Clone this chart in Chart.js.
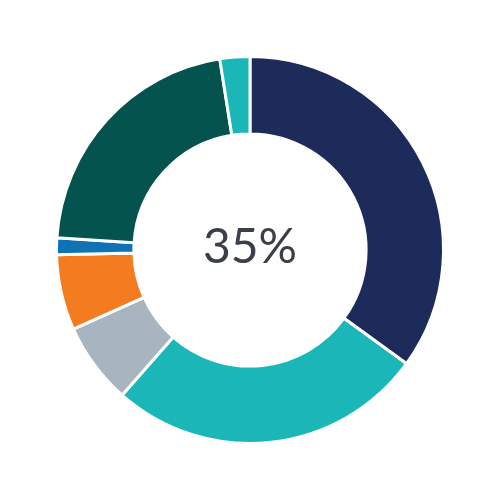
<!DOCTYPE html>
<html>
<head>
<meta charset="utf-8">
<script src="https://cdn.jsdelivr.net/npm/chart.js@4"></script>
<style>
  html, body { margin: 0; padding: 0; background: #fff; }
  #wrap { width: 500px; height: 500px; }
</style>
</head>
<body>
<div id="wrap"><canvas id="donutChart"></canvas></div>
<script>
// Segment data, clockwise from 12 o'clock
const labels = ['Navy', 'Teal', 'Gray', 'Orange', 'Blue', 'Dark teal', 'Light teal'];
const values = [35, 26.5, 6.8, 6.3, 1.4, 21.5, 2.5];
const colors = ['#1c2b5a', '#1bb6b8', '#a9b4c1', '#f47c20', '#0e72b5', '#04534f', '#1bb6b8'];
const centerText = '35%';

// Draws the big label in the hole
const centerLabel = {
    id: 'centerLabel',
    afterDraw(chart) {
        const meta = chart.getDatasetMeta(0).data[0];
        const ctx = chart.ctx;
        ctx.save();
        ctx.font = '400 48px Lato';
        ctx.fillStyle = '#3b3f48';
        ctx.textAlign = 'center';
        ctx.textBaseline = 'middle';
        ctx.fillText(centerText, meta.x, meta.y - 2);
        ctx.restore();
    }
};

const ctx = document.getElementById('donutChart').getContext('2d');
new Chart(ctx, {
    type: 'doughnut',
    data: {
        labels: labels,
        datasets: [{
            data: values,
            backgroundColor: colors,
            borderColor: '#ffffff',
            borderWidth: 3
        }]
    },
    options: {
        responsive: true,
        maintainAspectRatio: false,
        animation: false,
        cutout: '60%',
        layout: { padding: 55 },
        plugins: {
            legend: { display: false },
            tooltip: { enabled: false }
        }
    },
    plugins: [centerLabel]
});
</script>
</body>
</html>
